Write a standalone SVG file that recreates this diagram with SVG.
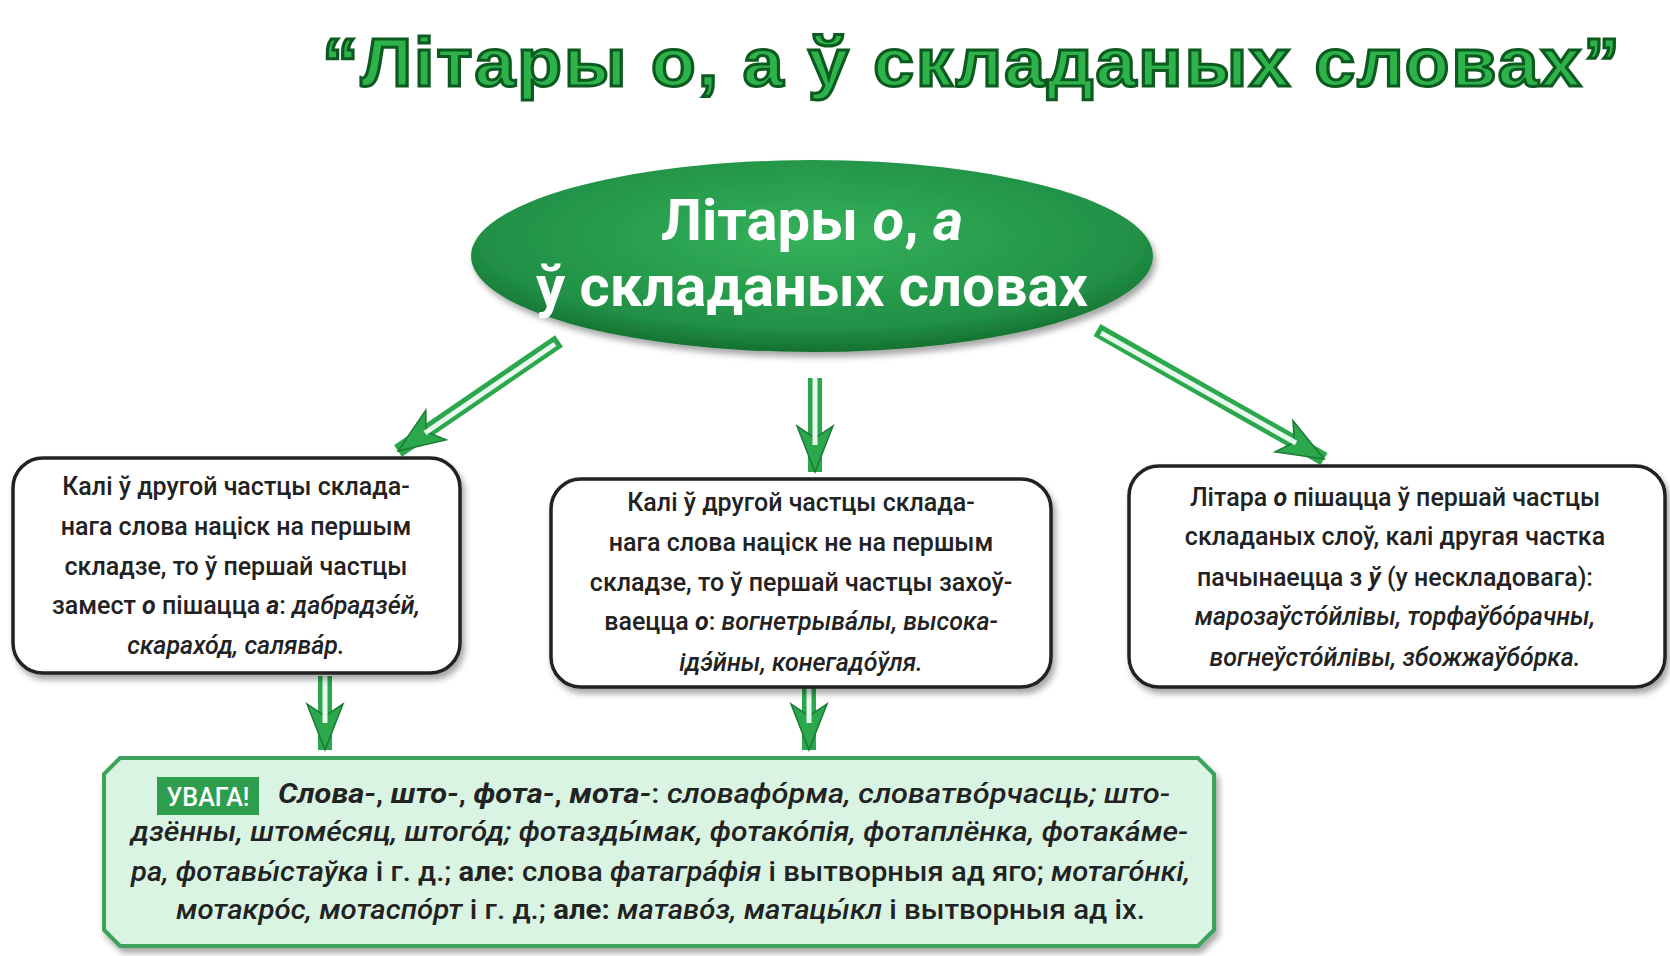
<svg xmlns="http://www.w3.org/2000/svg" width="1670" height="956" viewBox="0 0 1670 956">
<defs>
<radialGradient id="eg" cx="50%" cy="40%" r="60%"><stop offset="0" stop-color="#34b25a"/><stop offset="0.8" stop-color="#219046"/><stop offset="1" stop-color="#15702f"/></radialGradient>
<marker id="ah" markerUnits="userSpaceOnUse" markerWidth="60" markerHeight="40" refX="50" refY="20" orient="auto" viewBox="0 0 60 40">
<path d="M50 20 L4 2 L16 20 L4 38 Z" fill="#2aa84b" stroke="#1a7a35" stroke-width="1.5"/>
</marker>
<filter id="sh" x="-5%" y="-5%" width="110%" height="120%"><feDropShadow dx="3" dy="5" stdDeviation="3" flood-color="#000" flood-opacity="0.35"/></filter>
</defs>
<style>
.t{font-family:Roboto,"Liberation Sans",sans-serif;font-weight:500;font-size:25px;fill:#222;}
.n{font-size:27px;}
.i{font-style:italic;}
.b{font-weight:700;}
.box{fill:#fff;stroke:#222;stroke-width:3.5;filter:url(#sh);}
.sh{fill:none;stroke:#2aa84b;stroke-width:14;}
.in{fill:none;stroke:#e9f8ee;stroke-width:5;}
</style>
<rect width="1670" height="956" fill="#fff"/>
<text x="972" y="86" text-anchor="middle" textLength="1300" lengthAdjust="spacingAndGlyphs" font-family="'Liberation Sans',sans-serif" font-weight="900" font-size="68" fill="#2db34a" stroke="#0d5a20" stroke-width="3" letter-spacing="2">“Літары о, а ў складаных словах”</text>

<g id="connectors">
<line class="sh" x1="559" y1="341" x2="398" y2="451" marker-end="url(#ah)"/>
<line class="in" x1="555" y1="344" x2="425" y2="433"/>
<line class="sh" x1="815" y1="378" x2="815" y2="472" marker-end="url(#ah)"/>
<line class="in" x1="815" y1="378" x2="815" y2="445"/>
<line class="sh" x1="1097" y1="330" x2="1324" y2="459" marker-end="url(#ah)"/>
<line class="in" x1="1101" y1="333" x2="1296" y2="443"/>
<line class="sh" x1="325" y1="676" x2="325" y2="750" marker-end="url(#ah)"/>
<line class="in" x1="325" y1="676" x2="325" y2="723"/>
<line class="sh" x1="809" y1="687" x2="809" y2="750" marker-end="url(#ah)"/>
<line class="in" x1="809" y1="687" x2="809" y2="723"/>
</g>

<g id="center">
<ellipse cx="812" cy="256" rx="341" ry="96" fill="url(#eg)" filter="url(#sh)"/>
<text x="812" y="240" text-anchor="middle" font-family="Roboto,'Liberation Sans',sans-serif" font-weight="700" font-size="58" fill="#fff">Літары <tspan font-style="italic">о</tspan>, <tspan font-style="italic">а</tspan></text>
<text x="812" y="306" text-anchor="middle" font-family="Roboto,'Liberation Sans',sans-serif" font-weight="700" font-size="58" fill="#fff">ў складаных словах</text>
</g>

<g id="box1">
<rect class="box" x="13" y="458" width="447" height="215" rx="30"/>
<text class="t" text-anchor="middle"><tspan x="236" y="495">Калі ў другой частцы склада-</tspan><tspan x="236" y="535">нага слова націск на першым</tspan><tspan x="236" y="575">складзе, то ў першай частцы</tspan><tspan x="236" y="614">замест <tspan class="b i">о</tspan> пішацца <tspan class="b i">а</tspan>: <tspan class="i">дабрадзе́й,</tspan></tspan><tspan x="236" y="654" class="i">скарахо́д, салява́р.</tspan></text>
</g>

<g id="box2">
<rect class="box" x="551" y="479" width="500" height="208" rx="30"/>
<text class="t" text-anchor="middle"><tspan x="801" y="511">Калі ў другой частцы склада-</tspan><tspan x="801" y="551">нага слова націск не на першым</tspan><tspan x="801" y="591">складзе, то ў першай частцы захоў-</tspan><tspan x="801" y="630">ваецца <tspan class="b i">о</tspan>: <tspan class="i">вогнетрыва́лы, высока-</tspan></tspan><tspan x="801" y="671" class="i">ідэ́йны, конегадо́ўля.</tspan></text>
</g>

<g id="box3">
<rect class="box" x="1129" y="466" width="536" height="221" rx="30"/>
<text class="t" text-anchor="middle"><tspan x="1395" y="506">Літара <tspan class="b i">о</tspan> пішацца ў першай частцы</tspan><tspan x="1395" y="545">складаных слоў, калі другая частка</tspan><tspan x="1395" y="586">пачынаецца з <tspan class="b i">ў</tspan> (у нескладовага):</tspan><tspan x="1395" y="625" class="i">марозаўсто́йлівы, торфаўбо́рачны,</tspan><tspan x="1395" y="666" class="i">вогнеўсто́йлівы, збожжаўбо́рка.</tspan></text>
</g>

<g id="note">
<path d="M120 758 L1198 758 L1214 774 L1214 930 L1198 946 L120 946 L104 930 L104 774 Z" fill="#d9f4e3" stroke="#3aa35a" stroke-width="4" filter="url(#sh)"/>
<rect x="157" y="777" width="102" height="38" fill="#2e9e4e"/>
<text x="208" y="806" text-anchor="middle" font-family="Roboto,'Liberation Sans',sans-serif" font-weight="500" font-size="25" fill="#fff">УВАГА!</text>
<text class="t n"><tspan x="278" y="803" textLength="892" lengthAdjust="spacingAndGlyphs"><tspan class="b i">Слова-</tspan>, <tspan class="b i">што-</tspan>, <tspan class="b i">фота-</tspan>, <tspan class="b i">мота-</tspan>: <tspan class="i">словафо́рма, словатво́рчасць; што-</tspan></tspan><tspan x="131" y="841" textLength="1057" lengthAdjust="spacingAndGlyphs" class="i">дзённы, штоме́сяц, штого́д; фотазды́мак, фотако́пія, фотаплёнка, фотака́ме-</tspan><tspan x="131" y="881" textLength="1059" lengthAdjust="spacingAndGlyphs"><tspan class="i">ра, фотавы́стаўка</tspan> і г. д.; <tspan class="b">але:</tspan> слова <tspan class="i">фатагра́фія</tspan> і вытворныя ад яго; <tspan class="i">мотаго́нкі,</tspan></tspan><tspan x="176" y="919" textLength="969" lengthAdjust="spacingAndGlyphs"><tspan class="i">мотакро́с, мотаспо́рт</tspan> і г. д.; <tspan class="b">але:</tspan> <tspan class="i">матаво́з, матацы́кл</tspan> і вытворныя ад іх.</tspan></text>
</g>
</svg>
